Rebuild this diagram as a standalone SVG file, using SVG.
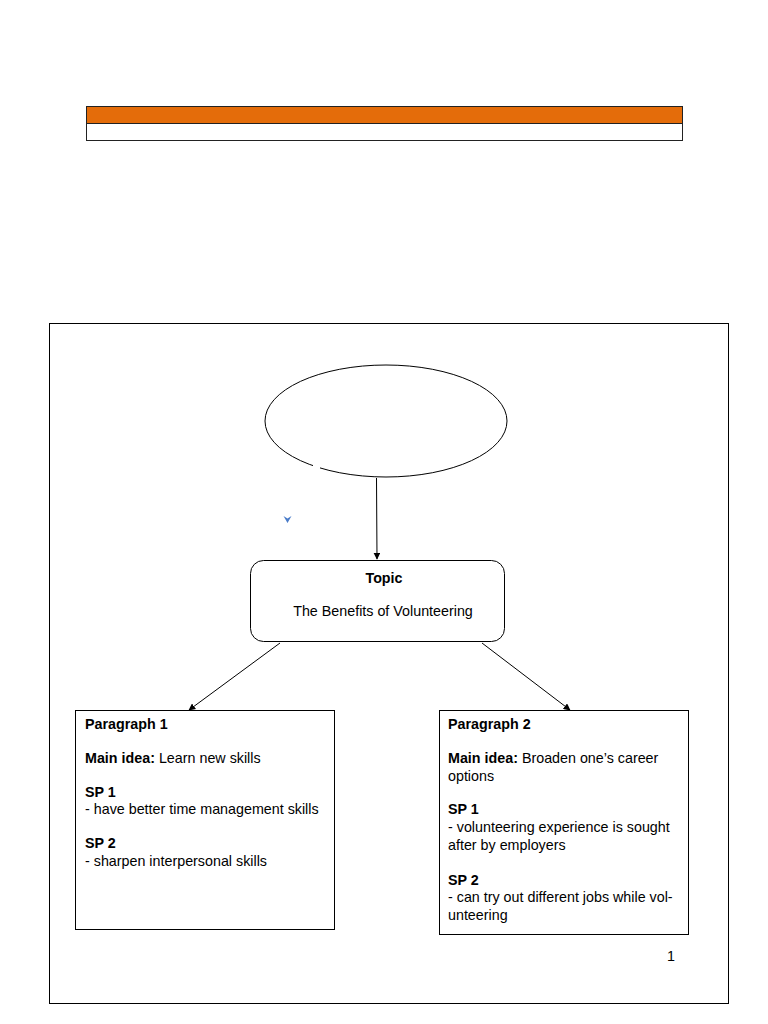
<svg xmlns="http://www.w3.org/2000/svg" width="768" height="1024" viewBox="0 0 768 1024">
<defs>
<style>
text{font-family:"Liberation Sans","Open Sans",sans-serif;font-size:14.3px;fill:#000}
.b{font-weight:bold}
.box{fill:#fff;stroke:#000;stroke-width:1}
.con{stroke:#000;stroke-width:1;fill:none;marker-end:url(#ah)}
</style>
<marker id="ah" viewBox="0 0 10 10" refX="9" refY="5" markerWidth="7" markerHeight="7" orient="auto" markerUnits="userSpaceOnUse">
<path d="M0,0 L10,5 L0,10 z" fill="#000"/>
</marker>
</defs>
<rect width="768" height="1024" fill="#fff"/>
<g id="header">
<rect x="86.5" y="106.5" width="596" height="17" fill="#e46c0a" stroke="#222" stroke-width="1"/>
<rect x="86.5" y="123.5" width="596" height="17" fill="#fff" stroke="#222" stroke-width="1"/>
</g>
<g id="frame">
<rect x="49.5" y="323.5" width="679" height="680" fill="none" stroke="#000" stroke-width="1"/>
</g>
<g id="ellipse">
<ellipse cx="386" cy="421" rx="121" ry="56" fill="#fff" stroke="#000" stroke-width="1"/>
<rect x="313" y="463" width="7" height="6" fill="#fff"/>
</g>
<g id="mark">
<path d="M283.5,516 L287.5,523 L291.5,516 L287.5,518.5 z" fill="#4a7cc9"/>
</g>
<g id="connectors">
<line class="con" x1="376.5" y1="478" x2="377" y2="559"/>
<line class="con" x1="280" y1="643" x2="189" y2="710"/>
<line class="con" x1="482" y1="643" x2="570" y2="710"/>
</g>
<g id="topic">
<rect class="box" x="250.5" y="560.5" width="254" height="81" rx="13"/>
<text class="b" x="384" y="583" text-anchor="middle">Topic</text>
<text x="383" y="616" text-anchor="middle">The Benefits of Volunteering</text>
</g>
<g id="para1">
<rect class="box" x="75.5" y="710.5" width="259" height="219"/>
<text class="b" x="85" y="729">Paragraph 1</text>
<text x="85" y="763"><tspan class="b">Main idea:</tspan> Learn new skills</text>
<text class="b" x="85" y="797">SP 1</text>
<text x="85" y="814">- have better time management skills</text>
<text class="b" x="85" y="848">SP 2</text>
<text x="85" y="866">- sharpen interpersonal skills</text>
</g>
<g id="para2">
<rect class="box" x="439.5" y="710.5" width="249" height="224"/>
<text class="b" x="448" y="729">Paragraph 2</text>
<text x="448" y="763"><tspan class="b">Main idea:</tspan> Broaden one’s career</text>
<text x="448" y="781">options</text>
<text class="b" x="448" y="814">SP 1</text>
<text x="448" y="832">- volunteering experience is sought</text>
<text x="448" y="850">after by employers</text>
<text class="b" x="448" y="885">SP 2</text>
<text x="448" y="902">- can try out different jobs while vol-</text>
<text x="448" y="920">unteering</text>
</g>
<g id="pagenum">
<text x="671" y="961" text-anchor="middle">1</text>
</g>
</svg>
